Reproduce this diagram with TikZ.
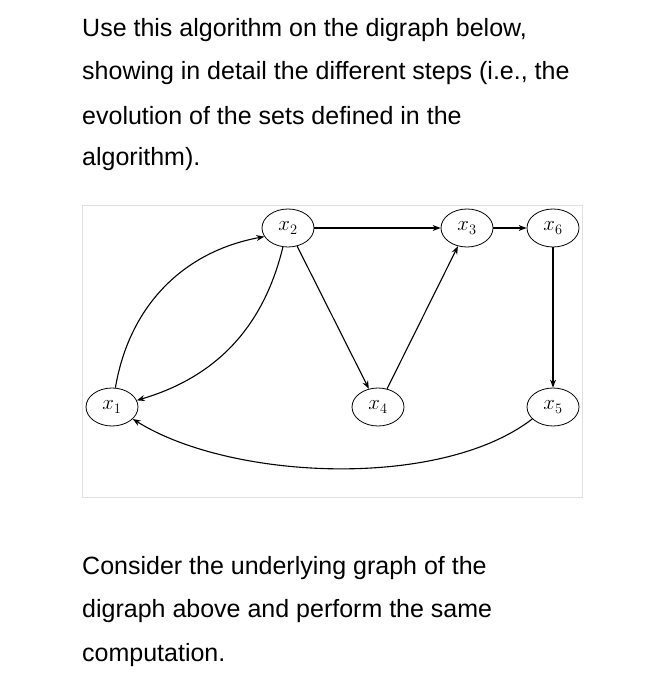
\documentclass[tikz,border=0pt]{standalone}
\usepackage{fontspec}
\setmainfont{Liberation Sans}
\usetikzlibrary{arrows.meta,shapes.geometric}
\begin{document}
\begin{tikzpicture}[x=1pt,y=-1pt,
  vert/.style={draw,line width=0.8pt,ellipse,minimum width=52pt,minimum height=38pt,inner sep=0pt,font=\fontsize{20}{20}\selectfont},
  arc/.style={-{Stealth[length=8pt,width=6pt]},line width=1.1pt},
  txt/.style={anchor=west,font=\fontsize{25}{25}\selectfont,inner sep=0pt}]
\useasboundingbox (0,0) rectangle (664,700);
\draw[black!12] (82,205) rectangle (582,497);
\node[txt] (t1) at (82,30) {Use this algorithm on the digraph below,};
\node[txt] (t2) at (82,73) {showing in detail the different steps (i.e., the};
\node[txt] (t3) at (82,116) {evolution of the sets defined in the};
\node[txt] (t4) at (82,159) {algorithm).};
\node[txt] (t5) at (82,568) {Consider the underlying graph of the};
\node[txt] (t6) at (82,611) {digraph above and perform the same};
\node[txt] (t7) at (82,655) {computation.};
\node[vert] (x2) at (288,228) {$x_2$};
\node[vert] (x3) at (467,228) {$x_3$};
\node[vert] (x6) at (553,228) {$x_6$};
\node[vert] (x1) at (112,407) {$x_1$};
\node[vert] (x4) at (378,407) {$x_4$};
\node[vert] (x5) at (553,407) {$x_5$};
\draw[arc] (x2) -- (x3);
\draw[arc] (x3) -- (x6);
\draw[arc] (x6) -- (x5);
\draw[arc] (x2) -- (x4);
\draw[arc] (x4) -- (x3);
\draw[arc] (x1.80) to[bend left=35] (x2.200);
\draw[arc] (x2.255) to[bend left=30] (x1.15);
\draw[arc] (x5.210) .. controls (440,490) and (230,480) .. (x1.330);
\end{tikzpicture}
\end{document}
